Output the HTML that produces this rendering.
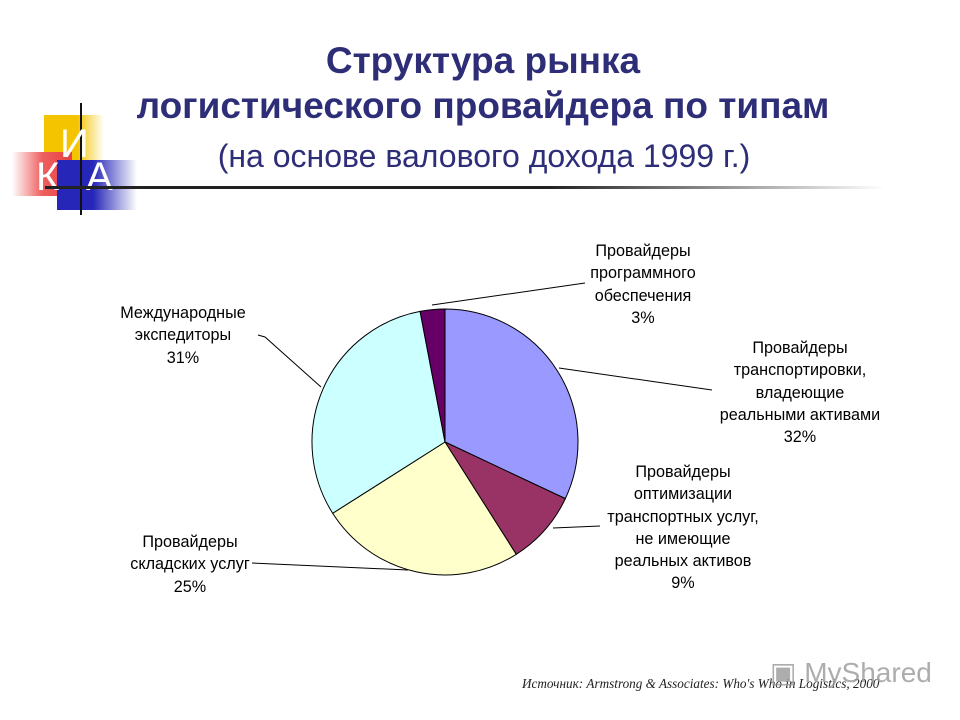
<!DOCTYPE html>
<html><head><meta charset="utf-8"><style>
body{margin:0;width:960px;height:720px;background:#fff;overflow:hidden;position:relative;font-family:"Liberation Sans","DejaVu Sans",sans-serif}
.t{position:absolute;left:0;width:960px;text-align:center;color:#2e2e78;white-space:nowrap}
.lbl{position:absolute;font-size:16.2px;text-align:center;line-height:22.3px;color:#000}
</style></head><body>
<div style="position:absolute;left:0;top:0;width:140px;height:220px">
<div style="position:absolute;left:44px;top:115px;width:60px;height:46px;background:linear-gradient(90deg,#f4c400 55%,#fff)"></div>
<div style="position:absolute;left:12px;top:152px;width:60px;height:44px;background:linear-gradient(90deg,#fff,#ee6060 50%,#e84040)"></div>
<div style="position:absolute;left:57px;top:160px;width:80px;height:50px;background:linear-gradient(90deg,#2626b8 45%,#fff)"></div>
<div style="position:absolute;left:80px;top:103px;width:2px;height:112px;background:#111"></div>
<div style="position:absolute;left:60px;top:122px;color:#fff;font-size:40px">И</div>
<div style="position:absolute;left:36px;top:155px;color:#fff;font-size:40px">К</div>
<div style="position:absolute;left:86px;top:155px;color:#fff;font-size:40px">А</div>
</div>
<div style="position:absolute;left:45px;top:186px;width:840px;height:3px;background:linear-gradient(90deg,#222 60%,#fff)"></div>
<div class="t" style="top:40px;font-size:37px;font-weight:bold;left:3px">Структура рынка</div>
<div class="t" style="top:85px;font-size:37px;font-weight:bold;left:3px">логистического провайдера по типам</div>
<div class="t" style="top:138px;font-size:32px;left:4px">(на основе валового дохода 1999 г.)</div>
<svg id="pie" width="960" height="720" style="position:absolute;left:0;top:0"></svg>
<div class="lbl" style="left:558px;top:240px;width:170px">Провайдеры<br>программного<br>обеспечения<br>3%</div>
<div class="lbl" style="left:690px;top:337px;width:220px">Провайдеры<br>транспортировки,<br>владеющие<br>реальными активами<br>32%</div>
<div class="lbl" style="left:578px;top:461px;width:210px">Провайдеры<br>оптимизации<br>транспортных услуг,<br>не имеющие<br>реальных активов<br>9%</div>
<div class="lbl" style="left:100px;top:531px;width:180px">Провайдеры<br>складских услуг<br>25%</div>
<div class="lbl" style="left:93px;top:302px;width:180px">Международные<br>экспедиторы<br>31%</div>
<div style="position:absolute;left:522px;top:676px;font-family:'Liberation Serif',serif;font-style:italic;font-size:13.2px;color:#222;white-space:nowrap">Источник:  Armstrong &amp; Associates: Who's Who in Logistics, 2000</div>
<div style="position:absolute;left:770px;top:656px;font-size:28px;color:#999;opacity:.8">▣ MyShared</div>
<script>
const categories=["Провайдеры транспортировки","Оптимизация","Складские услуги","Экспедиторы","Программное обеспечение"];
const values=[32,9,25,31,3];
const colors=["#9999ff","#993366","#ffffcc","#ccffff","#660066"];
const cx=445,cy=442,r=133;
const svg=document.getElementById('pie');const NS="http://www.w3.org/2000/svg";
const total=values.reduce((a,b)=>a+b,0);
function pt(a,rr){return [cx+rr*Math.sin(a),cy-rr*Math.cos(a)];}
let a0=0;
values.forEach((v,i)=>{
 const a1=a0+v/total*2*Math.PI;
 const p0=pt(a0,r),p1=pt(a1,r);
 const p=document.createElementNS(NS,'path');
 p.setAttribute('d',`M${cx},${cy}L${p0[0]},${p0[1]}A${r},${r} 0 ${a1-a0>Math.PI?1:0} 1 ${p1[0]},${p1[1]}Z`);
 p.setAttribute('fill',colors[i]);p.setAttribute('stroke','#000');p.setAttribute('stroke-width','1');
 
 
 svg.appendChild(p);
 a0=a1;
});
const leaders=[[[559,368],[712,390]],[[553,528],[600,526]],[[408,570],[252,563]],[[321,387],[265,337],[258,335]],[[432,305],[585,283]]];
leaders.forEach((l,i)=>{
 const pl=document.createElementNS(NS,'polyline');
 pl.setAttribute('points',l.map(p=>p.join(',')).join(' '));
 pl.setAttribute('fill','none');pl.setAttribute('stroke','#000');
 
 
 svg.appendChild(pl);
});
</script>
</body></html>
